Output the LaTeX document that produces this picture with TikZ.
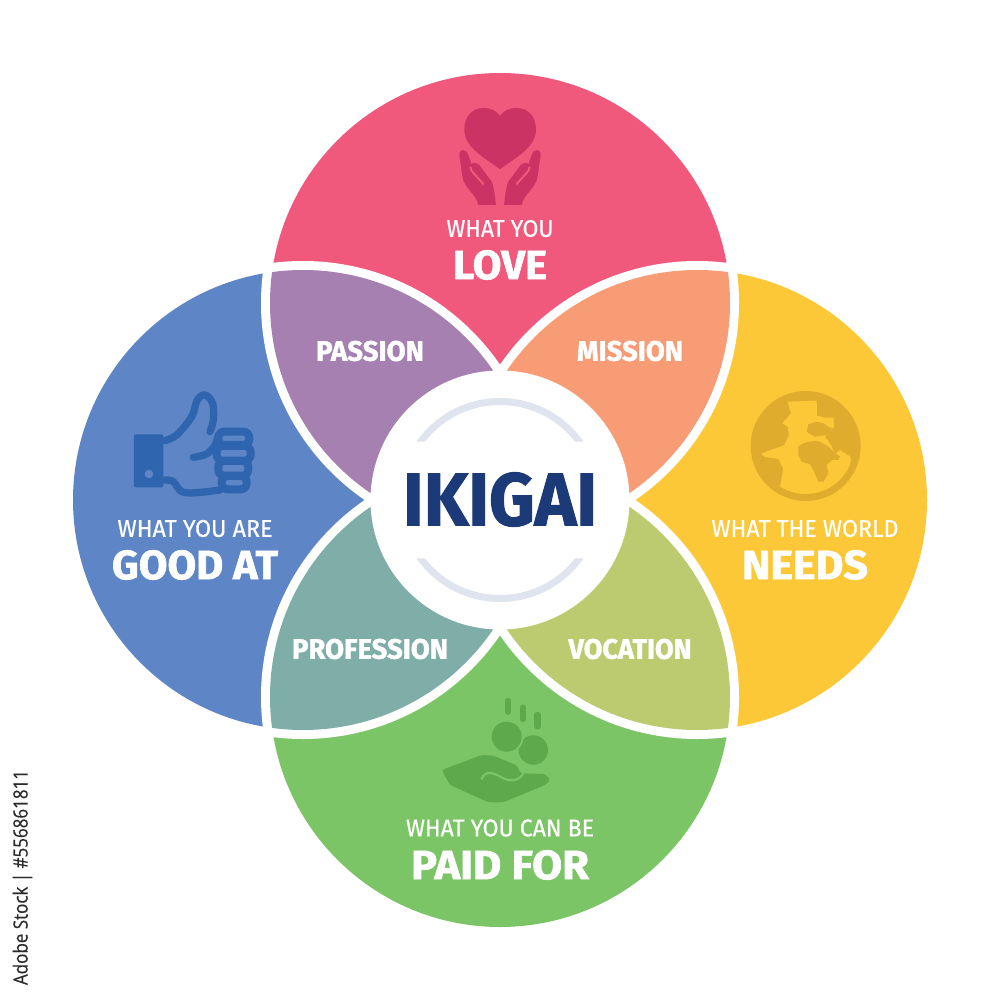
\documentclass[tikz,border=0pt]{standalone}
\usepackage{fontspec}
\usepackage{graphicx}
\setmainfont{Fira Sans}[FakeBold=0.5,BoldFeatures={FakeBold=1.5}]
\newfontfamily\sidefont{Open Sans}[FakeBold=0.4]
\definecolor{cTop}{HTML}{F0587C}
\definecolor{cLeft}{HTML}{5E86C6}
\definecolor{cRight}{HTML}{FCC838}
\definecolor{cBot}{HTML}{7BC566}
\definecolor{cPass}{HTML}{A580B0}
\definecolor{cMiss}{HTML}{F89C76}
\definecolor{cProf}{HTML}{7FADA8}
\definecolor{cVoc}{HTML}{BDCB70}
\definecolor{dTop}{HTML}{CB3364}
\definecolor{dLeft}{HTML}{2F65AF}
\definecolor{dRight}{HTML}{E0AC2E}
\definecolor{dBot}{HTML}{5FA94D}
\definecolor{navy}{HTML}{1D3A78}
\definecolor{ringc}{HTML}{DFE4EE}
\definecolor{sidec}{HTML}{2A2A2A}
\newcommand{\fitreg}[3]{\resizebox{#1pt}{#2pt}{\fontsize{20}{20}\selectfont #3}}
\newcommand{\fitbold}[3]{\resizebox{#1pt}{#2pt}{\fontsize{30}{30}\selectfont\bfseries #3}}
\newcommand{\lens}[3]{%
  \begin{scope}\clip (#1) circle[radius=239pt];\fill[white] (#2) circle[radius=239pt];\end{scope}%
  \begin{scope}\clip (#1) circle[radius=230pt];\fill[#3] (#2) circle[radius=230pt];\end{scope}}
\tikzset{lab/.style={inner sep=0pt,outer sep=0pt,text=white,anchor=center}}
\begin{document}
\begin{tikzpicture}[x=1pt,y=-1pt]
\useasboundingbox (0,0) rectangle (1000,1000);
\fill[white] (0,0) rectangle (1000,1000);
\coordinate (T) at (500,303);
\coordinate (B) at (500,697);
\coordinate (L) at (303,500);
\coordinate (R) at (697,500);
\coordinate (C) at (500,500);
% circles
\fill[cTop] (T) circle[radius=230pt];
\fill[cLeft] (L) circle[radius=230pt];
\fill[cRight] (R) circle[radius=230pt];
\fill[cBot] (B) circle[radius=230pt];
% lenses
\lens{T}{L}{cPass}
\lens{T}{R}{cMiss}
\lens{B}{L}{cProf}
\lens{B}{R}{cVoc}
% centre
\fill[white] (C) circle[radius=129.5pt];
\begin{scope}
  \clip (380,380) rectangle (620,441.7) (380,558.3) rectangle (620,620);
  \draw[ringc,line width=7pt] (C) circle[radius=98.5pt];
\end{scope}
% heart + hands
\begin{scope}[shift={(420,80)},x=.3333pt,y=-.3333pt]
  \fill[dTop] (240,108) .. controls (215,70) and (133,72) .. (133,150) .. controls (133,205) and (205,240) .. (240,268) .. controls (275,240) and (348,205) .. (348,150) .. controls (348,72) and (265,70) .. (240,108) -- cycle;
  \foreach \m/\o in {1/0,-1/480}{
    \begin{scope}[shift={(\o,0)},xscale=\m]
      \fill[dTop] (118,225) .. controls (118,205) and (138,205) .. (145,225) -- (155,252) .. controls (160,245) and (175,250) .. (180,258) -- (215,305) .. controls (222,320) and (225,350) .. (228,375) -- (175,375) .. controls (170,345) and (135,325) .. (128,295) -- cycle;
      \draw[cTop,line width=2pt,line cap=round] (152,262) .. controls (150,270) and (160,278) .. (190,312);
    \end{scope}}
\end{scope}
% thumb
\begin{scope}[shift={(110,380)},x=.3333pt,y=-.3333pt]
  \fill[dLeft,rounded corners=2pt] (72,163) rectangle (160,322);
  \fill[cLeft] (117,282) circle[radius=4.3pt];
  \draw[dLeft,line width=7.3pt,line cap=round,line join=round] plot[smooth,tension=.6] coordinates {(165,182) (200,165) (245,110) (262,60) (285,45) (308,70) (310,120) (300,155)};
  \draw[dLeft,line width=7.3pt,line cap=round] plot[smooth,tension=.6] coordinates {(165,300) (190,305) (225,338) (330,330)};
  \draw[dLeft,line width=7.3pt,line cap=round] plot[smooth,tension=.6] coordinates {(250,232) (290,222) (315,195) (325,165)};
  \draw[dLeft,fill=cLeft,line width=8pt,rounded corners=6pt] (335,288) rectangle (410,328);
  \draw[dLeft,fill=cLeft,line width=8pt,rounded corners=6pt] (325,243) rectangle (415,287);
  \draw[dLeft,fill=cLeft,line width=8pt,rounded corners=6pt] (320,198) rectangle (422,242);
  \draw[dLeft,fill=cLeft,line width=8pt,rounded corners=6pt] (325,155) rectangle (418,195);
\end{scope}
% globe
\begin{scope}[shift={(745,385)},x=.3333pt,y=-.3333pt]
  \fill[dRight] (182,183) circle[radius=55pt];
  \begin{scope}
    \clip (182,183) circle[radius=48pt];
    \fill[cRight] (128,50) -- (215,47) -- (216,92) -- (238,98) -- (265,98) -- (268,125) -- (240,155) -- (258,180) -- (270,208) -- (285,195) -- (316,215) -- (320,260) -- (340,340) -- (100,340) -- (108,290) -- (115,250) -- (100,222) -- (60,216) -- (48,206) -- (118,180) -- (132,150) -- (128,125) -- (112,115) -- (138,85) -- cycle;
    \fill[dRight] (190,118) -- (215,110) -- (235,115) -- (250,125) -- (262,130) -- (245,150) -- (210,155) -- (185,140) -- cycle;
    \fill[dRight] (160,185) .. controls (170,172) and (205,165) .. (225,170) -- (250,185) -- (272,205) -- (285,215) -- (280,225) -- (262,225) -- (245,240) -- (250,265) -- (235,290) -- (220,290) -- (205,255) -- (195,238) -- (170,230) -- (160,210) -- cycle;
  \end{scope}
\end{scope}
% coins + hand
\begin{scope}[shift={(440,695)},x=.3333pt,y=-.3333pt]
  \draw[dBot,line width=6.5pt,line cap=round] (204,18) -- (204,50);
  \draw[dBot,line width=6.5pt,line cap=round] (249,38) -- (249,72);
  \draw[dBot,line width=6.5pt,line cap=round] (293,60) -- (293,94);
  \fill[dBot] (280,165) circle[radius=14.7pt];
  \fill[cBot] (200,125) circle[radius=17pt];
  \fill[dBot] (200,125) circle[radius=15pt];
  \fill[dBot,rounded corners=3pt] (5,225) -- (125,180) -- (160,182) -- (232,212) -- (240,235) -- (315,237) -- (332,255) -- (315,270) -- (190,322) -- (145,322) -- (75,290) -- (30,270) -- cycle;
  \draw[cBot,line width=2.2pt,line cap=round] (125,252) .. controls (135,225) and (160,232) .. (190,250) .. controls (215,262) and (240,255) .. (250,235);
\end{scope}
% labels
\node[lab] (tLove1) at (500,228.5) {\fitreg{107}{17}{WHAT YOU}};
\node[lab] (tLove2) at (500,265) {\fitbold{94}{29}{LOVE}};
\node[lab] (tGood1) at (195,528.5) {\fitreg{155}{17}{WHAT YOU ARE}};
\node[lab] (tGood2) at (195,565) {\fitbold{166}{29}{GOOD AT}};
\node[lab] (tWorld1) at (805,528.5) {\fitreg{187}{17}{WHAT THE WORLD}};
\node[lab] (tWorld2) at (805,565) {\fitbold{126}{29}{NEEDS}};
\node[lab] (tPaid1) at (500,828) {\fitreg{188}{17}{WHAT YOU CAN BE}};
\node[lab] (tPaid2) at (500,865) {\fitbold{178}{29}{PAID FOR}};
\node[lab] (tPass) at (370,351) {\fitbold{108}{20}{PASSION}};
\node[lab] (tMiss) at (630,351) {\fitbold{106}{20}{MISSION}};
\node[lab] (tProf) at (370,649) {\fitbold{156}{20}{PROFESSION}};
\node[lab] (tVoc) at (630,649) {\fitbold{123}{20}{VOCATION}};
\node[lab,text=navy] (tIki) at (500,499.5) {\fitbold{194}{53}{IKIGAI}};
\node[lab,text=sidec,rotate=90] (tSide) at (22.5,877.5) {\resizebox{215pt}{15pt}{\sidefont\fontsize{20}{20}\selectfont Adobe Stock | \#556861811}};
\end{tikzpicture}
\end{document}
